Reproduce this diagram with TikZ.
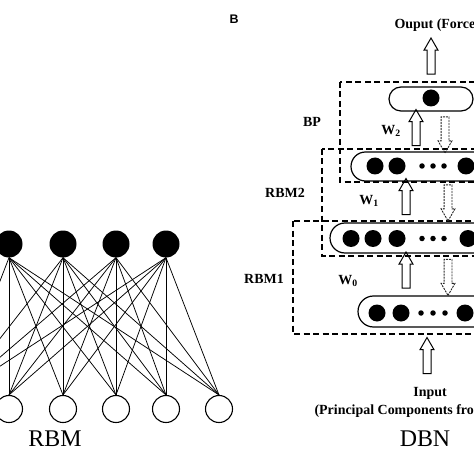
\documentclass[tikz,border=0pt]{standalone}
\usepackage{fontspec}
\setmainfont{Liberation Serif}
\newfontfamily\panelfont{Liberation Sans}
\usetikzlibrary{shapes,arrows}
\tikzstyle{visible} = [circle, draw, line width=1.1bp, minimum size=27bp, inner sep=0]
\tikzstyle{hidden} = [circle, fill=black, minimum size=27bp, inner sep=0]
\tikzstyle{weight} = [draw, line width=0.75bp]
\tikzstyle{layer} = [rounded rectangle, draw, line width=1.2bp, inner sep=0]
\tikzstyle{unit} = [circle, fill=black, minimum size=17bp, inner sep=0]
\tikzstyle{ellipsisdot} = [circle, fill=black, minimum size=5.5bp, inner sep=0]
\tikzstyle{boundingbox} = [line width=1.1bp, dash pattern=on 6bp off 3.5bp]
\tikzstyle{uparrow} = [single arrow, draw, line width=1bp, shape border rotate=90, minimum height=36bp, inner sep=3.5bp, single arrow head extend=3bp, single arrow tip angle=60]
\tikzstyle{downarrow} = [uparrow, shape border rotate=270, draw=black!85, line width=0.9bp, dash pattern=on 2bp off 1bp]
\tikzstyle{layername} = [font=\fontsize{14}{16}\selectfont\bfseries]
\tikzstyle{caption} = [font=\fontsize{24}{26}\selectfont]

\begin{document}
\begin{tikzpicture}[x=1bp, y=-1bp]
\useasboundingbox (0, 0) rectangle (474, 474);
\clip (0, 0) rectangle (474, 474);

% RBM

\node [hidden] at (9, 244) (h1) {};
\node [hidden] at (63, 244) (h2) {};
\node [hidden] at (116, 244) (h3) {};
\node [hidden] at (166, 244) (h4) {};
\node [visible] at (-44, 409) (v0) {};
\node [visible] at (9, 409) (v1) {};
\node [visible] at (63, 409) (v2) {};
\node [visible] at (116, 409) (v3) {};
\node [visible] at (166, 409) (v4) {};
\node [visible] at (219, 409) (v5) {};
\foreach \h in {1,...,4}
  \foreach \v in {0,...,5}
    \path [weight] (h\h.south) -- (v\v.north);
\node [caption] at (55, 439) (rbmcap) {RBM};

% DBN

\node [font=\panelfont\fontsize{12.5}{14}\selectfont\bfseries] at (234, 19) (panel) {B};

\draw [boundingbox] (340, 82) rectangle (526, 182);
\node [layername] at (312, 122) (bp) {BP};
\draw [boundingbox] (322, 149) rectangle (544, 256);
\node [layername] at (285, 193) (rbm2) {RBM2};
\draw [boundingbox] (293, 221) rectangle (573, 334);
\node [layername] at (264, 279) (rbm1) {RBM1};

\node [layer, minimum width=84bp, minimum height=24bp] at (431, 99) (out) {};
\node [unit] at (431, 98) (o1) {};

\node [layer, minimum width=164bp, minimum height=29bp] at (433, 166.5) (hid2) {};
\node [unit] at (375, 166) (a1) {};
\node [unit] at (397, 166) (a2) {};
\node [ellipsisdot] at (422, 166) (a3) {};
\node [ellipsisdot] at (433, 166) (a4) {};
\node [ellipsisdot] at (444, 166) (a5) {};
\node [unit] at (466, 166) (a6) {};
\node [unit] at (488, 166) (a7) {};

\node [layer, minimum width=206bp, minimum height=30bp] at (433, 238) (hid1) {};
\node [unit] at (351, 238.5) (b1) {};
\node [unit] at (373, 238.5) (b2) {};
\node [unit] at (397, 238.5) (b3) {};
\node [ellipsisdot] at (422, 238.5) (b4) {};
\node [ellipsisdot] at (433, 238.5) (b5) {};
\node [ellipsisdot] at (444, 238.5) (b6) {};
\node [unit] at (468, 238.5) (b7) {};
\node [unit] at (490, 238.5) (b8) {};
\node [unit] at (512, 238.5) (b9) {};

\node [layer, minimum width=150bp, minimum height=31bp] at (433, 311.5) (vis) {};
\node [unit] at (377, 313) (c1) {};
\node [unit] at (401, 313) (c2) {};
\node [ellipsisdot] at (421, 313) (c3) {};
\node [ellipsisdot] at (433, 313) (c4) {};
\node [ellipsisdot] at (445, 313) (c5) {};
\node [unit] at (465, 313) (c6) {};
\node [unit] at (489, 313) (c7) {};

% arrows between layers
\node [uparrow] at (431, 59.5) (up3) {};
\node [uparrow] at (416, 131) (up2) {};
\node [downarrow] at (445, 131.5) (down2) {};
\node [layername] at (391, 131) (w2) {W\textsubscript{2}};
\node [uparrow] at (406, 200) (up1) {};
\node [downarrow] at (448, 199.5) (down1) {};
\node [layername] at (369, 201) (w1) {W\textsubscript{1}};
\node [uparrow] at (406, 273.5) (up0) {};
\node [downarrow] at (448, 274) (down0) {};
\node [layername] at (348, 281) (w0) {W\textsubscript{0}};
\node [uparrow] at (427, 359) (upin) {};

% input, output
\node [layername, anchor=west] at (391, 25) (output) {Ouput (Force)};
\node [layername] at (430, 393) (input) {Input};
\node [layername, anchor=west] at (311, 411) (inputsrc) {(Principal Components from};
\node [caption] at (425, 439) (dbncap) {DBN};

\end{tikzpicture}
\end{document}
